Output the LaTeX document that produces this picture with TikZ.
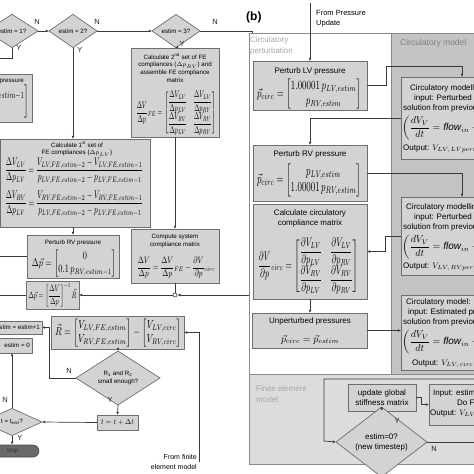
\documentclass[tikz,border=0pt]{standalone}
\usepackage{fontspec}
\setmainfont{Liberation Sans}
\usepackage{amsmath}
\usepackage{graphicx}
\usetikzlibrary{arrows.meta,shapes.geometric,shapes.misc}
\definecolor{boxfill}{HTML}{D3D3D3}
\definecolor{boxline}{HTML}{6E6E6E}
\definecolor{lin}{HTML}{3A3A3A}
\definecolor{cmfill}{HTML}{C3C3C3}
\definecolor{fefill}{HTML}{DCDCDC}
\definecolor{paneline}{HTML}{8A8A8A}
\definecolor{lbl}{HTML}{A6A6A6}
\definecolor{lbldark}{HTML}{808080}
\definecolor{stopfill}{HTML}{6A6A6A}
\newcommand{\fsA}{\fontsize{6.2}{7.8}\selectfont}
\newcommand{\fsB}{\fontsize{8}{10}\selectfont}
\newcommand{\fsC}{\fontsize{7.5}{9}\selectfont}
\begin{document}
\begin{tikzpicture}[x=1pt,y=-1pt,
  box/.style={draw=boxline,fill=boxfill,line width=0.7pt,inner sep=0pt,outer sep=0pt},
  dia/.style={diamond,draw=boxline,fill=boxfill,line width=0.7pt,inner sep=0pt,outer sep=0pt,align=center,font=\fsA},
  conn/.style={draw=lin,line width=0.7pt},
  arr/.style={conn,-{Latex[length=3.2pt,width=2.8pt]}},
  txa/.style={font=\fsA,inner sep=0pt,align=center},
  txb/.style={font=\fsB,inner sep=0pt,align=center},
  eqn/.style={inner sep=0pt},
  yn/.style={font=\fsC,inner sep=0pt,text=black!85},
  region/.style={draw=paneline,line width=0.8pt,inner sep=0pt,outer sep=0pt}]
\useasboundingbox (0,0) rectangle (474,474);
\clip (0,0) rectangle (474,474);
\fill[white] (0,0) rectangle (474,474);

% ================= panel (a) =================
\node[box,minimum width=92pt,minimum height=48pt] (LVa) at (-14,98) {};
\node[txa,anchor=east] (LVat) at (24,81) {Perturb LV pressure};
\node[eqn,anchor=east] (LVae) at (29,101) {\resizebox*{84pt}{33pt}{$\Delta\vec{p}=\begin{bmatrix}0.1\,p_{LV,estim-1}\\0\end{bmatrix}$}};

\node[box,minimum width=88pt,minimum height=89pt] (C2) at (175,92.5) {};
\node[txa] (C2t) at (175,68) {Calculate 2\textsuperscript{nd} set of FE\\compliances ($\Delta p_{RV}$) and\\assemble FE compliance\\matrix};
\node[eqn] (C2e) at (176,113) {\resizebox*{80pt}{44pt}{$\dfrac{\Delta V}{\Delta p}{}_{FE}=\begin{bmatrix}\dfrac{\Delta V_{LV}}{\Delta p_{LV}} & \dfrac{\Delta V_{LV}}{\Delta p_{RV}}\\[4pt] \dfrac{\Delta V_{RV}}{\Delta p_{LV}} & \dfrac{\Delta V_{RV}}{\Delta p_{RV}}\end{bmatrix}$}};

\node[box,minimum width=149.5pt,minimum height=88pt] (C1) at (75.25,183) {};
\node[txa] (C1t) at (77,149) {Calculate 1\textsuperscript{st} set of\\FE compliances ($\Delta p_{LV}$)};
\node[eqn] (C1e1) at (74,171) {\resizebox*{138pt}{26pt}{$\dfrac{\Delta V_{LV}}{\Delta p_{LV}}=\dfrac{V_{LV,FE,estim-2}-V_{LV,FE,estim-1}}{p_{LV,FE,estim-2}-p_{LV,FE,estim-1}}$}};
\node[eqn] (C1e2) at (74,204) {\resizebox*{138pt}{26pt}{$\dfrac{\Delta V_{RV}}{\Delta p_{LV}}=\dfrac{V_{RV,FE,estim-2}-V_{RV,FE,estim-1}}{p_{LV,FE,estim-2}-p_{LV,FE,estim-1}}$}};

\node[box,minimum width=92pt,minimum height=43pt] (PRV) at (73,256.5) {};
\node[txa] (PRVt) at (73,243) {Perturb RV pressure};
\node[eqn] (PRVe) at (74,263.5) {\resizebox*{84pt}{27pt}{$\Delta\vec{p}=\begin{bmatrix}0\\0.1\,p_{RV,estim-1}\end{bmatrix}$}};

\node[box,minimum width=88pt,minimum height=54pt] (CS) at (175,256) {};
\node[txa] (CSt) at (175,241) {Compute system\\compliance matrix};
\node[eqn] (CSe) at (176,268) {\resizebox*{78pt}{21pt}{$\dfrac{\Delta V}{\Delta p}=\dfrac{\Delta V}{\Delta p}{}_{FE}-\dfrac{\partial V}{\partial p}{}_{circ}$}};

\node[circle,draw=lin,fill=white,inner sep=0pt,minimum size=4pt,line width=0.6pt] (J) at (175,295) {};

\node[box,minimum width=53pt,minimum height=28pt] (DP) at (52.5,295) {};
\node[eqn] (DPe) at (52.5,295) {\resizebox*{48pt}{24pt}{$\Delta\vec{p}=\begin{bmatrix}\dfrac{\Delta V}{\Delta p}\end{bmatrix}^{-1}\vec{R}$}};

\node[box,minimum width=133pt,minimum height=33pt] (R) at (117.5,332.5) {};
\node[eqn] (Re) at (118,333) {\resizebox*{126pt}{28pt}{$\vec{R}=\begin{bmatrix}V_{LV,FE,estim}\\V_{RV,FE,estim}\end{bmatrix}-\begin{bmatrix}V_{LV,circ}\\V_{RV,circ}\end{bmatrix}$}};

\node[box,minimum width=47pt,minimum height=13pt] (EI) at (18.5,327.5) {};
\node[txa,anchor=east] (EIt) at (40,327.5) {estim = estim+1};
\node[box,minimum width=37pt,minimum height=15pt] (E0) at (13.5,345.5) {};
\node[txa,anchor=east] (E0t) at (30,345.5) {estim = 0};

\node[box,minimum width=41pt,minimum height=15pt] (T) at (117.5,422.5) {};
\node[eqn] (Tt) at (117.5,422.5) {\resizebox{33pt}{!}{$t=t+\Delta t$}};

\node[rounded rectangle,fill=stopfill,draw=stopfill!70!black,line width=0.6pt,minimum width=59pt,minimum height=12pt,inner sep=0pt] (STOP) at (9.5,451) {};
\node[txa,text=black!80] (STOPt) at (12.5,451) {stop};

\node[dia,minimum width=52pt,minimum height=21pt] (D1) at (12,31) {estim = 1?};
\node[dia,minimum width=48pt,minimum height=21pt] (D2) at (73,31) {estim = 2?};
\node[dia,minimum width=48pt,minimum height=21pt] (D3) at (176,31) {estim = 3?};
\node[dia,minimum width=84pt,minimum height=33pt] (DR) at (118,378) {R\textsubscript{1} and R\textsubscript{2}\\small enough?};
\node[dia,minimum width=60pt,minimum height=22pt] (DT) at (12,422) {t = t\textsubscript{end}?};

\coordinate (d1end) at (-5,58);
\coordinate (prvend) at (-5,257);
\coordinate (dpend) at (-5,295);
\coordinate (fein) at (199,462);

\draw[arr] (D1.east) -- (D2.west);
\draw[arr] (D2.east) -- (D3.west);
\draw[conn] (D1.south) |- (d1end);
\draw[arr] (D2.south) -- (D2.south |- C1.north);
\draw[arr] (D3.south) -- (C2.north);
\draw[arr] (D3.east) -- ++(52,0) |- (J.east);
\draw[arr] (C2.south) -- (CS.north);
\draw[conn] (CS.south) -- (J.north);
\draw[arr] (J.west) -- (DP.east);
\draw[conn] (DP.west) -- (dpend);
\draw[conn] (PRV.west) -- (PRV.west -| prvend);
\draw[arr] (C1.south -| PRV.north) -- (PRV.north);
\draw[arr] (fein) |- (R.east);
\draw[arr] (R.south -| DR.north) -- (DR.north);
\draw[arr] (DR.west) -- ++(-27,0) |- (EI.east);
\draw[arr] (DR.south) -- (T.north);
\draw[arr] (T.west) -- (DT.east);
\draw[arr] (DT.north) -- (DT.north |- E0.south);
\draw[arr] (DT.south) -- (DT.south |- STOP.north);

\node[yn] (n1) at (37,22) {N};
\node[yn] (n2) at (97,22) {N};
\node[yn] (n3) at (215,22) {N};
\node[yn] (y1) at (19,48) {Y};
\node[yn] (y2) at (80,50) {Y};
\node[yn] (y3) at (182,44) {Y};
\node[yn] (n4) at (69,371) {N};
\node[yn] (y4) at (110,400) {Y};
\node[yn] (n5) at (5,400) {N};
\node[yn] (y5) at (20,438) {Y};
\node[txa,align=right,anchor=east,font=\fontsize{7}{10}\selectfont] (fromfe) at (197,462) {From finite\\element model};

% ================= panel (b) =================
\node[region,fill=white,minimum width=142pt,minimum height=341pt] (WP) at (320,203.5) {};
\node[region,fill=cmfill,minimum width=90pt,minimum height=341pt] (CMR) at (436,203.5) {};
\node[region,fill=fefill,minimum width=232pt,minimum height=90pt] (FER) at (365,419) {};

\node[anchor=west,inner sep=0pt,font=\fontsize{12}{14}\selectfont\bfseries] (blabel) at (246,17) {(b)};
\node[anchor=west,align=left,inner sep=0pt,font=\fontsize{7.5}{10}\selectfont] (fpu) at (316,19) {From Pressure\\Update};
\node[anchor=west,align=left,inner sep=0pt,font=\fontsize{8}{11.5}\selectfont,text=lbl] (cplbl) at (250,46) {Circulatory\\perturbation};
\node[anchor=west,inner sep=0pt,font=\fontsize{8.5}{10}\selectfont,text=lbldark] (cmlbl) at (400,43) {Circulatory model};
\node[anchor=west,align=left,inner sep=0pt,font=\fontsize{8}{11.5}\selectfont,text=lbl] (felbl) at (256,394) {Finite element\\model};

\node[box,minimum width=114pt,minimum height=49pt] (PLV) at (310,85.5) {};
\node[txb] (PLVt) at (310,71) {Perturb LV pressure};
\node[eqn] (PLVe) at (309,94) {\resizebox*{104pt}{30pt}{$\vec{p}_{circ}=\begin{bmatrix}1.00001\,p_{LV,estim}\\p_{RV,estim}\end{bmatrix}$}};

\node[box,minimum width=114pt,minimum height=56pt] (PRVb) at (310,173) {};
\node[txb] (PRVbt) at (310,154) {Perturb RV pressure};
\node[eqn] (PRVbe) at (309,180) {\resizebox*{104pt}{33pt}{$\vec{p}_{circ}=\begin{bmatrix}p_{LV,estim}\\1.00001\,p_{RV,estim}\end{bmatrix}$}};

\node[box,minimum width=114pt,minimum height=95pt] (CCM) at (310,251.5) {};
\node[txb] (CCMt) at (310,218) {Calculate circulatory\\compliance matrix};
\node[eqn] (CCMe) at (308,266) {\resizebox*{100pt}{56pt}{$\dfrac{\partial V}{\partial p}{}_{circ}=\begin{bmatrix}\dfrac{\partial V_{LV}}{\partial p_{LV}} & \dfrac{\partial V_{LV}}{\partial p_{RV}}\\[4pt] \dfrac{\partial V_{RV}}{\partial p_{LV}} & \dfrac{\partial V_{RV}}{\partial p_{RV}}\end{bmatrix}$}};

\node[box,minimum width=115pt,minimum height=35pt] (UP) at (309.5,330.5) {};
\node[txb] (UPt) at (310,321) {Unperturbed pressures};
\node[eqn] (UPe) at (310,339.5) {\resizebox{58pt}{!}{$\vec{p}_{circ}=\vec{p}_{estim}$}};

\node[box,minimum width=119pt,minimum height=82pt] (CB1) at (460.5,118) {};
\node[txb,anchor=west] (CB1a) at (410,88) {Circulatory modelling};
\node[txb,anchor=west] (CB1b) at (414,98) {input: Perturbed pressures};
\node[txb,anchor=west] (CB1c) at (403,108) {solution from previous};
\node[eqn,anchor=west,font=\fontsize{10}{12}\selectfont] (CB1e) at (402,128) {$\left(\dfrac{dV_V}{dt}=\mathit{flow}_{in}-\mathit{flow}_{out}\right.$};
\node[txb,anchor=west] (CB1d) at (403,149) {Output: $V_{LV,\,LVperturb}$};

\node[box,minimum width=119pt,minimum height=78pt] (CB2) at (460.5,236) {};
\node[txb,anchor=west] (CB2a) at (406,207) {Circulatory modelling};
\node[txb,anchor=west] (CB2b) at (414,217) {input: Perturbed pressures};
\node[txb,anchor=west] (CB2c) at (403,227) {solution from previous};
\node[eqn,anchor=west,font=\fontsize{10}{12}\selectfont] (CB2e) at (402,247) {$\left(\dfrac{dV_V}{dt}=\mathit{flow}_{in}-\mathit{flow}_{out}\right.$};
\node[txb,anchor=west] (CB2d) at (403,267) {Output: $V_{LV,\,RVperturb}$};

\node[box,minimum width=119pt,minimum height=75pt] (CB3) at (460.5,332.5) {};
\node[txb,anchor=west] (CB3a) at (406,302) {Circulatory model:};
\node[txb,anchor=west] (CB3b) at (408,312) {input: Estimated pressures};
\node[txb,anchor=west] (CB3c) at (403,322) {solution from previous};
\node[eqn,anchor=west,font=\fontsize{10}{12}\selectfont] (CB3e) at (402,342) {$\left(\dfrac{dV_V}{dt}=\mathit{flow}_{in}-\mathit{flow}_{out}\right.$};
\node[txb,anchor=west] (CB3d) at (412,364) {Output: $V_{LV,\,circ}$};

\node[box,minimum width=68pt,minimum height=27pt] (UG) at (382,397.5) {};
\node[txb] (UGt) at (382,398) {update global\\stiffness matrix};
\node[box,minimum width=91pt,minimum height=41pt] (IN) at (474.5,404.5) {};
\node[txb,anchor=west] (INa) at (433,393) {Input: estim};
\node[txb,anchor=west] (INb) at (457,403) {Do FE};
\node[txb,anchor=west] (INc) at (430,414) {Output: $V_{LV,FE}$};
\node[dia,font=\fsB,minimum width=91pt,minimum height=40pt] (DFE) at (381.5,442) {estim=0?\\(new timestep)};

\coordinate (fpstart) at (310,3);
\coordinate (loopin) at (480,379);
\coordinate (nout) at (480,442);

\draw[arr] (fpstart) -- (PLV.north);
\draw[arr] (PLV.east) -- ++(19,0) |- ++(0,-19.5) -| ([xshift=1.5pt]CB1.north);
\draw[arr] (CB1.west) -| (PRVb.north);
\draw[arr] (PRVb.east) -| ([xshift=1.5pt]CB2.north);
\draw[arr] (CB2.west) -- ++(-16,0) |- (CCM.east);
\draw[arr] (CCM.south) -- (UP.north -| CCM.south);
\draw[arr] (UP.east) -- (UP.east -| CB3.west);
\draw[arr] (loopin) -| ++(-156,62) -- (DFE.west);
\draw[conn] (DFE.east) -- (nout);
\draw[arr] (DFE.north) -- (UG.south);
\draw[arr] (UG.east) -- ++(5,0) |- (IN.west);
\node[yn] (y6) at (397,421) {Y};
\node[yn] (n6) at (434,449) {N};
\end{tikzpicture}
\end{document}
